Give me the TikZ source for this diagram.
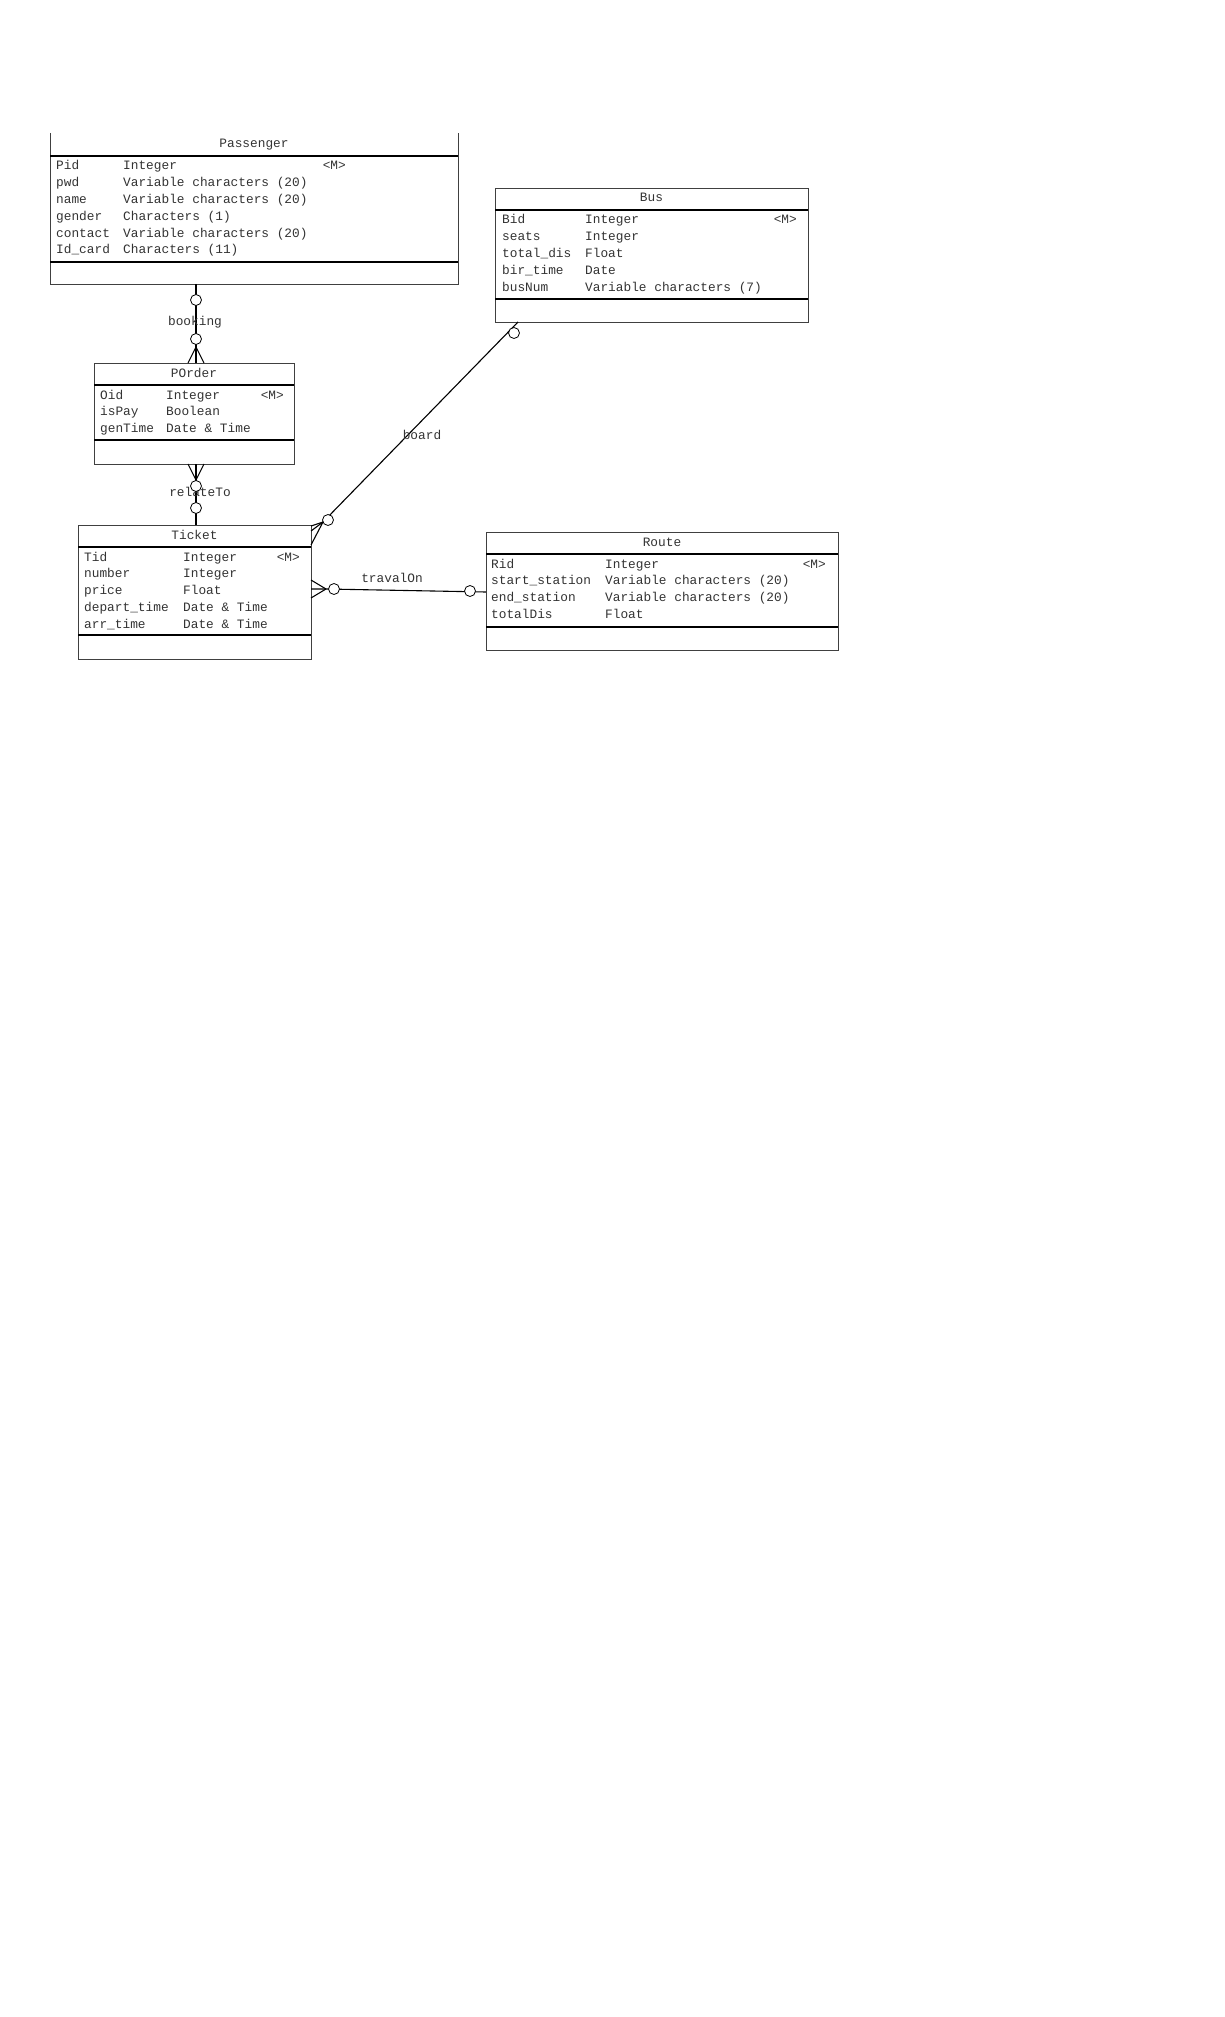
\documentclass[tikz,border=0pt]{standalone}
\usepackage{fontspec}
\setmonofont{Liberation Mono}
\usetikzlibrary{calc,positioning}
\tikzset{
  entity/.style={draw=black!75, line width=0.9pt, inner sep=0pt},
  sep/.style={line width=1.6pt},
  row/.style={anchor=west, inner sep=0pt, text height=9pt, text depth=3pt, font=\ttfamily\fontsize{12.8}{14}\selectfont, text=black!80},
  key/.style={anchor=east, inner sep=0pt, text height=9pt, text depth=3pt, font=\ttfamily\fontsize{12.8}{14}\selectfont, text=black!80},
  conn/.style={line width=1.1pt},
  opt/.style={draw, fill=white, line width=0.8pt},
  rel/.style={fill=white, inner sep=1pt, text height=9pt, text depth=3pt, font=\ttfamily\fontsize{12.8}{14}\selectfont, text=black!80}
}
\begin{document}
\begin{tikzpicture}[x=1pt,y=-1pt]
\useasboundingbox (0,0) rectangle (1225,2017);

% Passenger (top edge cut off)
\coordinate (pas nw) at (50,133);
\coordinate (pas se) at (458,284);
\draw[black!75, line width=0.9pt] (pas nw) |- (pas se) -- (458,133);
\node[row, anchor=center] (pas title) at (254,145) {Passenger};
\draw[sep] (50,156) -- (458,156);
\draw[sep] (50,262) -- (458,262);
\foreach \n/\t [count=\i from 0] in {Pid/Integer, pwd/Variable characters (20), name/Variable characters (20), gender/Characters (1), contact/Variable characters (20), Id\_card/Characters (11)}{
  \node[row] (pas row\i) at (56,167+16.8*\i) {\n};
  \node[row] (pas type\i) at (123,167+16.8*\i) {\t};
}
\node[key] (pas key) at (346,167) {<M>};

% Bus
\node[entity, minimum width=313pt, minimum height=134pt] (bus) at (651.5,255) {};
\node[row, anchor=center] (bus title) at (651.5,199) {Bus};
\draw[sep] (495,210) -- (808,210);
\draw[sep] (495,299) -- (808,299);
\foreach \n/\t [count=\i from 0] in {Bid/Integer, seats/Integer, total\_dis/Float, bir\_time/Date, busNum/Variable characters (7)}{
  \node[row] (bus row\i) at (502,221+16.8*\i) {\n};
  \node[row] (bus type\i) at (585,221+16.8*\i) {\t};
}
\node[key] (bus key) at (797,221) {<M>};

% POrder
\node[entity, minimum width=200pt, minimum height=101pt] (porder) at (194,413.5) {};
\node[row, anchor=center] (por title) at (194,374) {POrder};
\draw[sep] (94,385) -- (294,385);
\draw[sep] (94,440) -- (294,440);
\foreach \n/\t [count=\i from 0] in {Oid/Integer, isPay/Boolean, genTime/Date \& Time}{
  \node[row] (por row\i) at (100,396+16.8*\i) {\n};
  \node[row] (por type\i) at (166,396+16.8*\i) {\t};
}
\node[key] (por key) at (284,396) {<M>};

% Ticket
\node[entity, minimum width=233pt, minimum height=134pt] (ticket) at (194.5,592) {};
\node[row, anchor=center] (tic title) at (194.5,536) {Ticket};
\draw[sep] (78,547) -- (311,547);
\draw[sep] (78,635) -- (311,635);
\foreach \n/\t [count=\i from 0] in {Tid/Integer, number/Integer, price/Float, depart\_time/Date \& Time, arr\_time/Date \& Time}{
  \node[row] (tic row\i) at (84,558+16.8*\i) {\n};
  \node[row] (tic type\i) at (183,558+16.8*\i) {\t};
}
\node[key] (tic key) at (300,558) {<M>};

% Route
\node[entity, minimum width=352pt, minimum height=118pt] (route) at (662,591) {};
\node[row, anchor=center] (rou title) at (662,543) {Route};
\draw[sep] (486,554) -- (838,554);
\draw[sep] (486,627) -- (838,627);
\foreach \n/\t [count=\i from 0] in {Rid/Integer, start\_station/Variable characters (20), end\_station/Variable characters (20), totalDis/Float}{
  \node[row] (rou row\i) at (491,565+16.8*\i) {\n};
  \node[row] (rou type\i) at (605,565+16.8*\i) {\t};
}
\node[key] (rou key) at (826,565) {<M>};

% booking
\coordinate (bk top) at (196,284);
\coordinate (bk bot) at (196,363);
\coordinate (bk foot) at (196,347);
\draw[conn] (bk top) -- (bk bot);
\node[rel, fill=none] (booking) at (195,323) {booking};
\draw[conn] (bk foot) -- (188,363) (bk foot) -- (204,363);
\draw[opt] (196,300) circle (5.5);
\draw[opt] (196,339) circle (5.5);

% relateTo
\coordinate (rt top) at (196,464);
\coordinate (rt bot) at (196,525);
\coordinate (rt foot) at (196,480);
\draw[conn] (rt top) -- (rt bot);
\node[rel, fill=none] (relateto) at (200,493) {relateTo};
\draw[conn] (rt foot) -- (188,464) (rt foot) -- (204,464);
\draw[opt] (196,486) circle (5.5);
\draw[opt] (196,508) circle (5.5);

% board
\coordinate (bd bus) at (518,322);
\coordinate (bd foot) at (323,522);
\draw[conn] (bd bus) -- (bd foot) -- (311,531);
\draw[conn] (bd foot) -- (311,526) (bd foot) -- (311,545);
\node[rel, fill=none] (board) at (422,436) {board};
\draw[opt] (514,333) circle (5.5);
\draw[opt] (328,520) circle (5.5);

% travalOn
\coordinate (tv route) at (486,592);
\coordinate (tv foot) at (326,589);
\draw[conn] (tv route) -- (tv foot) -- (311,589);
\draw[conn] (tv foot) -- (311,580) (tv foot) -- (311,598);
\node[rel, fill=none] (travalon) at (392,579) {travalOn};
\draw[opt] (334,589) circle (5.5);
\draw[opt] (470,591) circle (5.5);
\end{tikzpicture}
\end{document}
